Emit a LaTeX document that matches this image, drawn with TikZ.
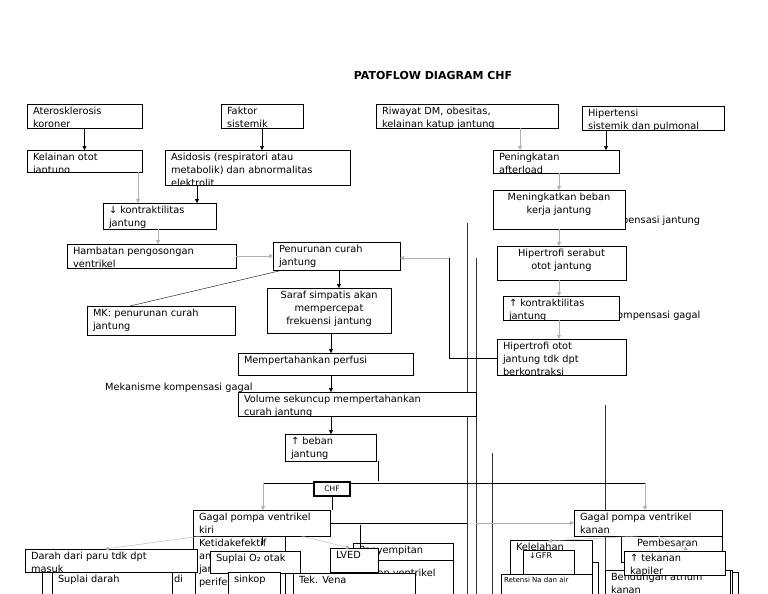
\documentclass[tikz,border=0pt]{standalone}
\usepackage{fontspec}
\setmainfont{DejaVu Sans}
\usetikzlibrary{arrows.meta}
\tikzset{
  box/.style={draw,thick,fill=white,inner sep=0pt,outer sep=0pt},
  arr/.style={-{Triangle[length=4pt,width=4pt]},thin},
  garr/.style={-{Triangle[length=4pt,width=4pt]},gray!60,thin},
  ln/.style={thin},
  vl/.style={semithick,black!80},
  lbl/.style={inner sep=0pt,minimum width=0pt,minimum height=0pt,draw=none,fill=none,font=\fontsize{9.8}{13}\selectfont}
}
\newcommand\mybox[7][]{%
  \pgfmathsetmacro\bw{#5-#3}\pgfmathsetmacro\bh{#6-#4}%
  \pgfmathsetmacro\cx{(#3+#5)/2}\pgfmathsetmacro\cy{(#4+#6)/2}%
  \node[box,minimum width=\bw pt,minimum height=\bh pt,
    path picture={\node[lbl,anchor=north west,align=left,#1] at ([xshift=6pt,yshift=-3pt]path picture bounding box.north west) {#7};}]
    (#2) at (\cx,\cy) {};}
\newcommand\cbox[7][]{%
  \pgfmathsetmacro\bw{#5-#3}\pgfmathsetmacro\bh{#6-#4}%
  \pgfmathsetmacro\cx{(#3+#5)/2}\pgfmathsetmacro\cy{(#4+#6)/2}%
  \node[box,minimum width=\bw pt,minimum height=\bh pt,
    path picture={\node[lbl,anchor=north,align=center,#1] at ([yshift=-3pt]path picture bounding box.north) {#7};}]
    (#2) at (\cx,\cy) {};}
\begin{document}
\begin{tikzpicture}[x=1pt,y=-1pt]
\useasboundingbox (0,0) rectangle (768,594);
\node[lbl,font=\bfseries\fontsize{11}{13}\selectfont] (title) at (433,75) {PATOFLOW DIAGRAM CHF};

\coordinate (v1t) at (467,223); \coordinate (v1b) at (467,594);
\coordinate (v2t) at (476,258); \coordinate (v2b) at (476,594);
\coordinate (v3t) at (492,453); \coordinate (v3b) at (492,594);
\coordinate (v4t) at (605,405); \coordinate (v4b) at (605,594);
\draw[vl] (v1t) -- (v1b); \draw[vl] (v2t) -- (v2b);
\draw[vl] (v3t) -- (v3b); \draw[vl] (v4t) -- (v4b);

\node[lbl,anchor=west] (t1) at (622,221) {pensasi jantung};
\node[lbl,anchor=west] (t2) at (617,316) {ompensasi gagal};
\node[lbl,anchor=west] (t3) at (105,388) {Mekanisme kompensasi gagal};

\mybox{ater}{27}{104}{142}{128}{Aterosklerosis\\koroner}
\mybox{faktor}{221}{104}{303}{128}{Faktor\\sistemik}
\mybox{riw}{376}{104}{558}{128}{Riwayat DM, obesitas,\\kelainan katup jantung}
\mybox{hip}{582}{106}{724}{130}{Hipertensi\\sistemik dan pulmonal}
\mybox{kel}{27}{150}{142}{172}{Kelainan otot\\jantung}
\mybox{asid}{165}{150}{350}{185}{Asidosis (respiratori atau\\metabolik) dan abnormalitas\\elektrolit}
\mybox{kontr}{103}{203}{216}{229}{↓ kontraktilitas\\jantung}
\mybox{hamb}{67}{244}{236}{268}{Hambatan pengosongan\\ventrikel}
\mybox{pen}{273}{242}{400}{270}{Penurunan curah\\jantung}
\mybox{peni}{493}{150}{619}{173}{Peningkatan\\afterload}
\cbox{menb}{493}{190}{625}{229}{Meningkatkan beban\\kerja jantung}
\cbox{hser}{497}{246}{626}{280}{Hipertrofi serabut\\otot jantung}
\mybox{kontr2}{503}{296}{619}{320}{↑ kontraktilitas\\jantung}
\mybox{hoto}{497}{339}{626}{375}{Hipertrofi otot\\jantung tdk dpt\\berkontraksi}
\mybox{mk}{87}{306}{235}{335}{MK: penurunan curah\\jantung}
\cbox{saraf}{267}{288}{391}{333}{Saraf simpatis akan\\mempercepat\\frekuensi jantung}
\mybox{perf}{238}{353}{413}{375}{Mempertahankan perfusi}
\mybox{vol}{238}{392}{476}{416}{Volume sekuncup mempertahankan\\curah jantung}
\mybox{beban}{285}{434}{376}{461}{↑ beban\\jantung}

\draw[arr] (ater.south) -- (ater.south |- kel.north);
\draw[arr] (faktor.south) -- (faktor.south |- asid.north);
\draw[garr] ([xshift=-4pt]kel.south east) -- ([xshift=-4pt]kel.south east |- kontr.north);
\draw[arr] ([xshift=32pt]asid.south west) -- ([xshift=32pt]asid.south west |- kontr.north);
\draw[garr] ([xshift=55pt]kontr.south west) -- ([xshift=55pt]kontr.south west |- hamb.north);
\draw[garr] (hamb.east) -- (hamb.east -| pen.west);
\draw[arr] ([xshift=66pt]pen.south west) -- ([xshift=66pt]pen.south west |- saraf.north);
\draw[ln] ([xshift=10pt]pen.south west) -- ([xshift=43pt]mk.north west);
\draw[arr] ([xshift=64pt]saraf.south west) -- ([xshift=64pt]saraf.south west |- perf.north);
\draw[arr] ([xshift=93pt]perf.south west) -- ([xshift=93pt]perf.south west |- vol.north);
\draw[arr] ([xshift=93pt]vol.south west) -- ([xshift=93pt]vol.south west |- beban.north);
\draw[garr] ([xshift=144pt]riw.south west) -- ([xshift=144pt]riw.south west |- peni.north);
\draw[arr] ([xshift=24pt]hip.south west) -- ([xshift=24pt]hip.south west |- peni.north);
\draw[garr] ([xshift=66pt]peni.south west) -- ([xshift=66pt]peni.south west |- menb.north);
\draw[garr] ([xshift=66pt]menb.south west) -- ([xshift=66pt]menb.south west |- hser.north);
\draw[garr] ([xshift=62pt]hser.south west) -- ([xshift=62pt]hser.south west |- kontr2.north);
\draw[garr] ([xshift=56pt]kontr2.south west) -- ([xshift=56pt]kontr2.south west |- hoto.north);
\coordinate (rt1) at (449,358); \coordinate (rt2) at (449,258);
\draw[ln] (hoto.west |- rt1) -- (rt1) -- (rt2);
\draw[garr] (rt2) -- (pen.east |- rt2);

\coordinate (hl) at (263,483); \coordinate (hr) at (645,483);
\draw[ln] (hl) -- (hr);
\node[draw,line width=1.6pt,fill=white,minimum width=36pt,minimum height=14pt,inner sep=0pt,font=\fontsize{7.5}{8}\selectfont] (chf) at (332,489) {CHF};
\draw[ln] ([xshift=93pt]beban.south west) -- ([xshift=93pt]beban.south west |- chf.north);
\mybox{gki}{193}{510}{330}{536}{Gagal pompa ventrikel\\kiri}
\mybox{gka}{574}{510}{722}{536}{Gagal pompa ventrikel\\kanan}
\draw[garr] (hl) -- (hl |- gki.north);
\draw[garr] (hr) -- (hr |- gka.north);
\draw[ln] (chf.south) -- (chf.south |- gki.north);
\draw[ln] (gki.east) -- (gki.east -| v1t);
\draw[garr] (gki.east -| v2t) -- (gka.west);

\mybox{ket}{193}{536}{285}{594}{Ketidakefektif\\an perfusi\\jaringan\\perifer}
\mybox{peny}{353}{543}{453}{560}{Penyempitan}
\mybox{peny2}{353}{560}{453}{594}{\\lumen ventrikel}
\node[box,minimum width=130pt,minimum height=22pt] (bk1) at (107,583) {};
\mybox{dar}{25}{549}{197}{572}{Darah dari paru tdk dpt\\masuk}
\mybox{supd}{52}{572}{172}{594}{Suplai darah}
\mybox[xshift=-4pt]{di}{172}{572}{195}{594}{di}
\mybox{supo}{210}{551}{300}{573}{Suplai O₂ otak}
\mybox{sink}{228}{572}{280}{594}{sinkop}
\mybox{lved}{330}{548}{378}{572}{LVED}
\mybox{tek}{293}{573}{415}{594}{Tek. Vena}
\coordinate (vk) at (360,525);
\draw[ln] (vk) -- (vk |- lved.north);
\draw[garr] ([xshift=-60pt]gki.south) -- (105,549);
\draw[garr] ([xshift=40pt]gki.south) -- (350,548);
\draw[ln] (262,536) -- (262,545);

\mybox{pemb}{621}{536}{722}{562}{\hspace{10pt}Pembesaran\\vena dan hepar}
\mybox{kell}{510}{540}{592}{580}{Kelelahan\\\\}
\node[box,minimum width=6pt,minimum height=32pt] (bk2) at (595,578) {};
\mybox[font=\fontsize{8}{9}\selectfont]{gfr}{523}{550}{574}{575}{↓GFR}
\mybox[font=\fontsize{7}{8}\selectfont,xshift=-3pt]{ret}{501}{574}{592}{594}{Retensi Na dan air}
\node[box,minimum width=8pt,minimum height=22pt] (bk3) at (734,583) {};
\node[box,minimum width=8pt,minimum height=24pt] (bk4) at (728,582) {};
\mybox{bend}{605}{570}{730}{594}{Bendungan atrium\\kanan}
\mybox{tekn}{624}{551}{725}{575}{↑ tekanan\\kapiler}
\draw[garr] ([xshift=-10pt]gka.south) -- (548,541);
\draw[garr] ([xshift=10pt]gka.south) -- (688,550);
\end{tikzpicture}
\end{document}
